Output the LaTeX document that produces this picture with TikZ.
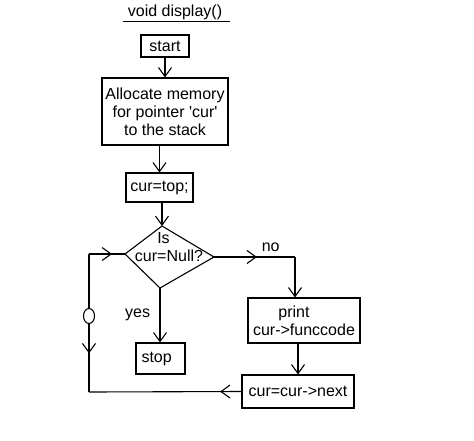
\documentclass[tikz,border=0pt]{standalone}
\usepackage{fontspec}
\setmainfont{Liberation Sans}
\usetikzlibrary{arrows.meta, decorations.markings, shapes.geometric}

\tikzset{
  flow/.style={line width=1.1pt},
  headarrow/.style={-{Straight Barb[length=9pt,width=13pt]}},
  block/.style={draw, flow, inner sep=2pt},
  midarrow/.style={postaction={decorate}, decoration={markings,
    mark=at position #1 with {\arrow{Straight Barb[length=9pt,width=13pt]}}}},
  midback/.style={postaction={decorate}, decoration={markings,
    mark=at position #1 with {\arrowreversed{Straight Barb[length=9pt,width=13pt]}}}}
}

\begin{document}
\begin{tikzpicture}[x=1pt, y=-1pt, every node/.style={font=\fontsize{16}{18}\selectfont}]
    \useasboundingbox (0,0) rectangle (474,440);

    % Title with underline
    \node[inner sep=0pt] (title) at (175,12) {void display()};
    \draw[flow] ([xshift=-5pt,yshift=-2pt]title.south west) -- ([xshift=8pt,yshift=-2pt]title.south east);

    % Boxes of the flow
    \node[block, minimum width=48pt, minimum height=22pt] (start) at (165,46) {start};
    \node[block, align=center, minimum width=126pt, minimum height=67pt] (alloc) at (165,111.5)
        {Allocate memory\\for pointer \textquotesingle cur\textquotesingle\\to the stack};
    \node[block, minimum width=67pt, minimum height=29pt] (settop) at (159.5,187.5) {cur=top;};

    % Decision (drawn by hand, a little lopsided)
    \coordinate (isnulltop) at (162,226);
    \coordinate (isnullright) at (214,257);
    \coordinate (isnullbottom) at (160,288);
    \coordinate (isnullleft) at (125,254);
    \draw[flow] (isnulltop) -- (isnullright) -- (isnullbottom) -- (isnullleft) -- cycle;
    \node[align=center, inner sep=0pt] (isnulltext) at (169,247) {Is\hspace*{11pt}\\cur=Null?};

    \node[block, text width=38pt, inner xsep=5.5pt, align=left, minimum height=31pt] (stop) at (160.5,358.5) {stop};
    \node[block, align=center, minimum width=112pt, minimum height=45pt] (print) at (304,320.5)
        {print\hspace*{20pt}\\cur->funccode};
    \node[block, minimum width=112pt, minimum height=33pt] (advance) at (298,391.5) {cur=cur->next};

    % Corners of the lines
    \coordinate (nocorner) at (295,257);
    \coordinate (loopbottom) at (89,392);
    \coordinate (looptop) at (89,254);

    % Straight connectors
    \draw[flow, headarrow] (start) -- (alloc);
    \draw[flow, headarrow] (settop.north |- alloc.south) -- (settop.north);
    \draw[flow, headarrow] (isnulltop |- settop.south) -- (isnulltop);
    \draw[flow, headarrow] (isnullbottom) -- (isnullbottom |- stop.north)
        node[pos=0.5, left=6pt] {yes};
    \draw[flow, midarrow=0.53] (isnullright) -- (nocorner)
        node[pos=0.7, above=1pt] {no};
    \draw[flow, headarrow] (nocorner) -- (nocorner |- print.north);
    \draw[flow, headarrow] (advance.north |- print.south) -- (advance.north);

    % Loop back to the decision
    \draw[flow, midarrow=0.14] (advance.west) -- (loopbottom);
    \draw[flow, midback=0.28] (loopbottom) -- (looptop);
    \draw[flow, midarrow=0.64] (looptop) -- (isnullleft);
    \node[ellipse, draw, flow, fill=white, inner sep=0pt, minimum width=11pt, minimum height=15pt] (loopmark) at (89,316) {};
\end{tikzpicture}
\end{document}
